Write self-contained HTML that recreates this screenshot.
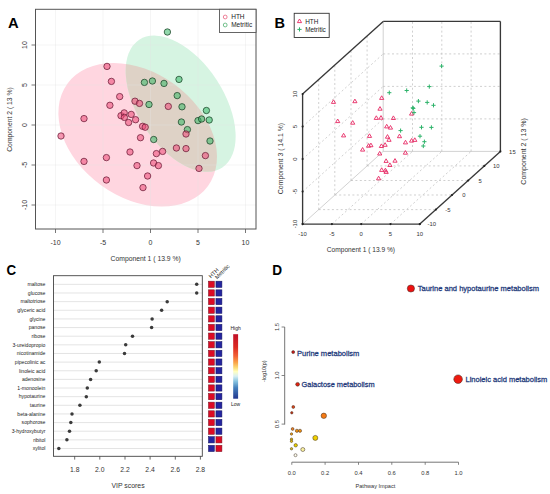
<!DOCTYPE html>
<html><head><meta charset="utf-8"><style>
html,body{margin:0;padding:0;background:#fff;width:550px;height:494px;overflow:hidden}
svg{display:block}
text{font-family:"Liberation Sans", sans-serif}
</style></head><body>
<svg width="550" height="494" viewBox="0 0 550 494">
<rect width="550" height="494" fill="#fff"/>
<defs><clipPath id="pinkclip"><ellipse cx="137.7" cy="134.8" rx="86.9" ry="62.4" transform="rotate(36 137.7 134.8)"/></clipPath></defs>
<ellipse cx="137.7" cy="134.8" rx="86.9" ry="62.4" transform="rotate(36 137.7 134.8)" fill="#FFD6E0"/>
<ellipse cx="180.66" cy="103.7" rx="76.2" ry="43.1" transform="rotate(57.1 180.66 103.7)" fill="#D6F4E2"/>
<g clip-path="url(#pinkclip)"><ellipse cx="180.66" cy="103.7" rx="76.2" ry="43.1" transform="rotate(57.1 180.66 103.7)" fill="#DED2C6"/></g>
<line x1="55.5" y1="9.3" x2="55.5" y2="229" stroke="#e4e4e4" stroke-opacity="0.45" stroke-width="0.8"/>
<line x1="103" y1="9.3" x2="103" y2="229" stroke="#e4e4e4" stroke-opacity="0.45" stroke-width="0.8"/>
<line x1="150.5" y1="9.3" x2="150.5" y2="229" stroke="#e4e4e4" stroke-opacity="0.45" stroke-width="0.8"/>
<line x1="198" y1="9.3" x2="198" y2="229" stroke="#e4e4e4" stroke-opacity="0.45" stroke-width="0.8"/>
<line x1="245.5" y1="9.3" x2="245.5" y2="229" stroke="#e4e4e4" stroke-opacity="0.45" stroke-width="0.8"/>
<line x1="35.5" y1="45" x2="256" y2="45" stroke="#e4e4e4" stroke-opacity="0.45" stroke-width="0.8"/>
<line x1="35.5" y1="85" x2="256" y2="85" stroke="#e4e4e4" stroke-opacity="0.45" stroke-width="0.8"/>
<line x1="35.5" y1="125" x2="256" y2="125" stroke="#e4e4e4" stroke-opacity="0.45" stroke-width="0.8"/>
<line x1="35.5" y1="165" x2="256" y2="165" stroke="#e4e4e4" stroke-opacity="0.45" stroke-width="0.8"/>
<line x1="35.5" y1="205" x2="256" y2="205" stroke="#e4e4e4" stroke-opacity="0.45" stroke-width="0.8"/>
<circle cx="167.4" cy="32" r="3.2" fill="#34B866" fill-opacity="0.55" stroke="#1C4428" stroke-opacity="0.95" stroke-width="0.8"/>
<circle cx="179" cy="79.4" r="3.2" fill="#34B866" fill-opacity="0.55" stroke="#1C4428" stroke-opacity="0.95" stroke-width="0.8"/>
<circle cx="144.4" cy="82.4" r="3.2" fill="#34B866" fill-opacity="0.55" stroke="#1C4428" stroke-opacity="0.95" stroke-width="0.8"/>
<circle cx="152.4" cy="81" r="3.2" fill="#34B866" fill-opacity="0.55" stroke="#1C4428" stroke-opacity="0.95" stroke-width="0.8"/>
<circle cx="164" cy="83.4" r="3.2" fill="#34B866" fill-opacity="0.55" stroke="#1C4428" stroke-opacity="0.95" stroke-width="0.8"/>
<circle cx="177.2" cy="95.6" r="3.2" fill="#34B866" fill-opacity="0.55" stroke="#1C4428" stroke-opacity="0.95" stroke-width="0.8"/>
<circle cx="149" cy="104.5" r="3.2" fill="#34B866" fill-opacity="0.55" stroke="#1C4428" stroke-opacity="0.95" stroke-width="0.8"/>
<circle cx="182" cy="106.8" r="3.2" fill="#34B866" fill-opacity="0.55" stroke="#1C4428" stroke-opacity="0.95" stroke-width="0.8"/>
<circle cx="206.4" cy="110.5" r="3.2" fill="#34B866" fill-opacity="0.55" stroke="#1C4428" stroke-opacity="0.95" stroke-width="0.8"/>
<circle cx="198" cy="120.6" r="3.2" fill="#34B866" fill-opacity="0.55" stroke="#1C4428" stroke-opacity="0.95" stroke-width="0.8"/>
<circle cx="201.6" cy="119" r="3.2" fill="#34B866" fill-opacity="0.55" stroke="#1C4428" stroke-opacity="0.95" stroke-width="0.8"/>
<circle cx="209.2" cy="120" r="3.2" fill="#34B866" fill-opacity="0.55" stroke="#1C4428" stroke-opacity="0.95" stroke-width="0.8"/>
<circle cx="181.4" cy="122" r="3.2" fill="#34B866" fill-opacity="0.55" stroke="#1C4428" stroke-opacity="0.95" stroke-width="0.8"/>
<circle cx="187.4" cy="129.6" r="3.2" fill="#34B866" fill-opacity="0.55" stroke="#1C4428" stroke-opacity="0.95" stroke-width="0.8"/>
<circle cx="153.7" cy="139.5" r="3.2" fill="#34B866" fill-opacity="0.55" stroke="#1C4428" stroke-opacity="0.95" stroke-width="0.8"/>
<circle cx="210" cy="141" r="3.2" fill="#34B866" fill-opacity="0.55" stroke="#1C4428" stroke-opacity="0.95" stroke-width="0.8"/>
<circle cx="107" cy="66.4" r="3.2" fill="#EE4E7A" fill-opacity="0.58" stroke="#6A1C36" stroke-opacity="0.95" stroke-width="0.8"/>
<circle cx="111.4" cy="81.4" r="3.2" fill="#EE4E7A" fill-opacity="0.58" stroke="#6A1C36" stroke-opacity="0.95" stroke-width="0.8"/>
<circle cx="119.7" cy="96.6" r="3.2" fill="#EE4E7A" fill-opacity="0.58" stroke="#6A1C36" stroke-opacity="0.95" stroke-width="0.8"/>
<circle cx="109.9" cy="105.3" r="3.2" fill="#EE4E7A" fill-opacity="0.58" stroke="#6A1C36" stroke-opacity="0.95" stroke-width="0.8"/>
<circle cx="84" cy="118.6" r="3.2" fill="#EE4E7A" fill-opacity="0.58" stroke="#6A1C36" stroke-opacity="0.95" stroke-width="0.8"/>
<circle cx="61" cy="136" r="3.2" fill="#EE4E7A" fill-opacity="0.58" stroke="#6A1C36" stroke-opacity="0.95" stroke-width="0.8"/>
<circle cx="135" cy="101.2" r="3.2" fill="#EE4E7A" fill-opacity="0.58" stroke="#6A1C36" stroke-opacity="0.95" stroke-width="0.8"/>
<circle cx="139.5" cy="103.4" r="3.2" fill="#EE4E7A" fill-opacity="0.58" stroke="#6A1C36" stroke-opacity="0.95" stroke-width="0.8"/>
<circle cx="121" cy="115.7" r="3.2" fill="#EE4E7A" fill-opacity="0.58" stroke="#6A1C36" stroke-opacity="0.95" stroke-width="0.8"/>
<circle cx="124.2" cy="112.9" r="3.2" fill="#EE4E7A" fill-opacity="0.58" stroke="#6A1C36" stroke-opacity="0.95" stroke-width="0.8"/>
<circle cx="124.4" cy="117.4" r="3.2" fill="#EE4E7A" fill-opacity="0.58" stroke="#6A1C36" stroke-opacity="0.95" stroke-width="0.8"/>
<circle cx="131.2" cy="114.4" r="3.2" fill="#EE4E7A" fill-opacity="0.58" stroke="#6A1C36" stroke-opacity="0.95" stroke-width="0.8"/>
<circle cx="135.6" cy="119.7" r="3.2" fill="#EE4E7A" fill-opacity="0.58" stroke="#6A1C36" stroke-opacity="0.95" stroke-width="0.8"/>
<circle cx="128.6" cy="122.5" r="3.2" fill="#EE4E7A" fill-opacity="0.58" stroke="#6A1C36" stroke-opacity="0.95" stroke-width="0.8"/>
<circle cx="142.6" cy="126.3" r="3.2" fill="#EE4E7A" fill-opacity="0.58" stroke="#6A1C36" stroke-opacity="0.95" stroke-width="0.8"/>
<circle cx="145.2" cy="127.2" r="3.2" fill="#EE4E7A" fill-opacity="0.58" stroke="#6A1C36" stroke-opacity="0.95" stroke-width="0.8"/>
<circle cx="140.5" cy="137.7" r="3.2" fill="#EE4E7A" fill-opacity="0.58" stroke="#6A1C36" stroke-opacity="0.95" stroke-width="0.8"/>
<circle cx="168.3" cy="106.4" r="3.2" fill="#EE4E7A" fill-opacity="0.58" stroke="#6A1C36" stroke-opacity="0.95" stroke-width="0.8"/>
<circle cx="186" cy="134" r="3.2" fill="#EE4E7A" fill-opacity="0.58" stroke="#6A1C36" stroke-opacity="0.95" stroke-width="0.8"/>
<circle cx="176.4" cy="148" r="3.2" fill="#EE4E7A" fill-opacity="0.58" stroke="#6A1C36" stroke-opacity="0.95" stroke-width="0.8"/>
<circle cx="186" cy="148.6" r="3.2" fill="#EE4E7A" fill-opacity="0.58" stroke="#6A1C36" stroke-opacity="0.95" stroke-width="0.8"/>
<circle cx="162.6" cy="151.4" r="3.2" fill="#EE4E7A" fill-opacity="0.58" stroke="#6A1C36" stroke-opacity="0.95" stroke-width="0.8"/>
<circle cx="156.4" cy="153.6" r="3.2" fill="#EE4E7A" fill-opacity="0.58" stroke="#6A1C36" stroke-opacity="0.95" stroke-width="0.8"/>
<circle cx="205.4" cy="155.6" r="3.2" fill="#EE4E7A" fill-opacity="0.58" stroke="#6A1C36" stroke-opacity="0.95" stroke-width="0.8"/>
<circle cx="153.6" cy="163" r="3.2" fill="#EE4E7A" fill-opacity="0.58" stroke="#6A1C36" stroke-opacity="0.95" stroke-width="0.8"/>
<circle cx="158.4" cy="165.6" r="3.2" fill="#EE4E7A" fill-opacity="0.58" stroke="#6A1C36" stroke-opacity="0.95" stroke-width="0.8"/>
<circle cx="199" cy="168.4" r="3.2" fill="#EE4E7A" fill-opacity="0.58" stroke="#6A1C36" stroke-opacity="0.95" stroke-width="0.8"/>
<circle cx="147.6" cy="176" r="3.2" fill="#EE4E7A" fill-opacity="0.58" stroke="#6A1C36" stroke-opacity="0.95" stroke-width="0.8"/>
<circle cx="143" cy="187.6" r="3.2" fill="#EE4E7A" fill-opacity="0.58" stroke="#6A1C36" stroke-opacity="0.95" stroke-width="0.8"/>
<circle cx="84" cy="161.4" r="3.2" fill="#EE4E7A" fill-opacity="0.58" stroke="#6A1C36" stroke-opacity="0.95" stroke-width="0.8"/>
<circle cx="106.4" cy="157.6" r="3.2" fill="#EE4E7A" fill-opacity="0.58" stroke="#6A1C36" stroke-opacity="0.95" stroke-width="0.8"/>
<circle cx="106.4" cy="180" r="3.2" fill="#EE4E7A" fill-opacity="0.58" stroke="#6A1C36" stroke-opacity="0.95" stroke-width="0.8"/>
<circle cx="130" cy="152" r="3.2" fill="#EE4E7A" fill-opacity="0.58" stroke="#6A1C36" stroke-opacity="0.95" stroke-width="0.8"/>
<circle cx="137" cy="165.6" r="3.2" fill="#EE4E7A" fill-opacity="0.58" stroke="#6A1C36" stroke-opacity="0.95" stroke-width="0.8"/>
<rect x="35.5" y="9.3" width="220.5" height="219.7" fill="none" stroke="#555" stroke-width="1"/>
<line x1="55.5" y1="229" x2="55.5" y2="233" stroke="#555" stroke-width="0.8"/>
<text x="55.5" y="245" font-size="7" text-anchor="middle" fill="#333" font-weight="normal" >-10</text>
<line x1="103" y1="229" x2="103" y2="233" stroke="#555" stroke-width="0.8"/>
<text x="103" y="245" font-size="7" text-anchor="middle" fill="#333" font-weight="normal" >-5</text>
<line x1="150.5" y1="229" x2="150.5" y2="233" stroke="#555" stroke-width="0.8"/>
<text x="150.5" y="245" font-size="7" text-anchor="middle" fill="#333" font-weight="normal" >0</text>
<line x1="198" y1="229" x2="198" y2="233" stroke="#555" stroke-width="0.8"/>
<text x="198" y="245" font-size="7" text-anchor="middle" fill="#333" font-weight="normal" >5</text>
<line x1="245.5" y1="229" x2="245.5" y2="233" stroke="#555" stroke-width="0.8"/>
<text x="245.5" y="245" font-size="7" text-anchor="middle" fill="#333" font-weight="normal" >10</text>
<line x1="31.5" y1="45" x2="35.5" y2="45" stroke="#555" stroke-width="0.8"/>
<text x="27.2" y="45" font-size="7" text-anchor="middle" fill="#333" font-weight="normal" transform="rotate(-90 27.2 45)" >10</text>
<line x1="31.5" y1="85" x2="35.5" y2="85" stroke="#555" stroke-width="0.8"/>
<text x="27.2" y="85" font-size="7" text-anchor="middle" fill="#333" font-weight="normal" transform="rotate(-90 27.2 85)" >5</text>
<line x1="31.5" y1="125" x2="35.5" y2="125" stroke="#555" stroke-width="0.8"/>
<text x="27.2" y="125" font-size="7" text-anchor="middle" fill="#333" font-weight="normal" transform="rotate(-90 27.2 125)" >0</text>
<line x1="31.5" y1="165" x2="35.5" y2="165" stroke="#555" stroke-width="0.8"/>
<text x="27.2" y="165" font-size="7" text-anchor="middle" fill="#333" font-weight="normal" transform="rotate(-90 27.2 165)" >-5</text>
<line x1="31.5" y1="205" x2="35.5" y2="205" stroke="#555" stroke-width="0.8"/>
<text x="27.2" y="205" font-size="7" text-anchor="middle" fill="#333" font-weight="normal" transform="rotate(-90 27.2 205)" >-10</text>
<text x="11.6" y="119.5" font-size="6.8" text-anchor="middle" fill="#333" font-weight="normal" transform="rotate(-90 11.6 119.5)" >Component 2 ( 13 %)</text>
<text x="145.7" y="261.1" font-size="6.8" text-anchor="middle" fill="#333" font-weight="normal" >Component 1 ( 13.9 %)</text>
<text transform="translate(8.1 27.75) scale(1.02 1.04)" font-size="14.5" font-weight="bold" fill="#000">A</text>
<rect x="219.5" y="9.3" width="36.5" height="23.2" fill="#fff" stroke="#555" stroke-width="0.9"/>
<circle cx="225.2" cy="17" r="1.9" fill="none" stroke="#E8607E" stroke-width="0.8"/>
<circle cx="225.2" cy="25" r="1.9" fill="none" stroke="#50B070" stroke-width="0.8"/>
<text x="231.2" y="19.4" font-size="6.5" text-anchor="start" fill="#222" font-weight="normal" >HTH</text>
<text x="231.2" y="27.4" font-size="6.5" text-anchor="start" fill="#222" font-weight="normal" >Metritic</text>
<line x1="318.7" y1="209.6" x2="435.9" y2="209.6" stroke="#bcbcbc" stroke-width="0.7" stroke-dasharray="2 2.4"/>
<line x1="334.8" y1="195.0" x2="452.0" y2="195.0" stroke="#bcbcbc" stroke-width="0.7" stroke-dasharray="2 2.4"/>
<line x1="351.0" y1="180.5" x2="468.2" y2="180.5" stroke="#bcbcbc" stroke-width="0.7" stroke-dasharray="2 2.4"/>
<line x1="367.1" y1="165.9" x2="484.3" y2="165.9" stroke="#bcbcbc" stroke-width="0.7" stroke-dasharray="2 2.4"/>
<line x1="331.9" y1="224.1" x2="412.5" y2="151.4" stroke="#bcbcbc" stroke-width="0.7" stroke-dasharray="2 2.4"/>
<line x1="361.2" y1="224.1" x2="441.8" y2="151.4" stroke="#bcbcbc" stroke-width="0.7" stroke-dasharray="2 2.4"/>
<line x1="390.5" y1="224.1" x2="471.1" y2="151.4" stroke="#bcbcbc" stroke-width="0.7" stroke-dasharray="2 2.4"/>
<line x1="318.7" y1="209.6" x2="318.7" y2="79.6" stroke="#bcbcbc" stroke-width="0.7" stroke-dasharray="2 2.4"/>
<line x1="334.8" y1="195.0" x2="334.8" y2="65.0" stroke="#bcbcbc" stroke-width="0.7" stroke-dasharray="2 2.4"/>
<line x1="351.0" y1="180.5" x2="351.0" y2="50.5" stroke="#bcbcbc" stroke-width="0.7" stroke-dasharray="2 2.4"/>
<line x1="367.1" y1="165.9" x2="367.1" y2="35.9" stroke="#bcbcbc" stroke-width="0.7" stroke-dasharray="2 2.4"/>
<line x1="302.6" y1="191.6" x2="383.2" y2="118.9" stroke="#bcbcbc" stroke-width="0.7" stroke-dasharray="2 2.4"/>
<line x1="302.6" y1="159.1" x2="383.2" y2="86.4" stroke="#bcbcbc" stroke-width="0.7" stroke-dasharray="2 2.4"/>
<line x1="302.6" y1="126.6" x2="383.2" y2="53.9" stroke="#bcbcbc" stroke-width="0.7" stroke-dasharray="2 2.4"/>
<line x1="412.5" y1="151.4" x2="412.5" y2="21.4" stroke="#bcbcbc" stroke-width="0.7" stroke-dasharray="2 2.4"/>
<line x1="441.8" y1="151.4" x2="441.8" y2="21.4" stroke="#bcbcbc" stroke-width="0.7" stroke-dasharray="2 2.4"/>
<line x1="471.1" y1="151.4" x2="471.1" y2="21.4" stroke="#bcbcbc" stroke-width="0.7" stroke-dasharray="2 2.4"/>
<line x1="383.2" y1="118.9" x2="500.4" y2="118.9" stroke="#bcbcbc" stroke-width="0.7" stroke-dasharray="2 2.4"/>
<line x1="383.2" y1="86.4" x2="500.4" y2="86.4" stroke="#bcbcbc" stroke-width="0.7" stroke-dasharray="2 2.4"/>
<line x1="383.2" y1="53.9" x2="500.4" y2="53.9" stroke="#bcbcbc" stroke-width="0.7" stroke-dasharray="2 2.4"/>
<line x1="302.6" y1="224.1" x2="383.2" y2="151.4" stroke="#b4b4b4" stroke-width="0.6"/>
<line x1="383.2" y1="151.4" x2="500.4" y2="151.4" stroke="#b4b4b4" stroke-width="0.6"/>
<line x1="383.2" y1="151.4" x2="383.2" y2="21.4" stroke="#b4b4b4" stroke-width="0.6"/>
<line x1="302.6" y1="224.1" x2="302.6" y2="94.1" stroke="#383838" stroke-width="1.35"/>
<line x1="302.6" y1="94.1" x2="383.2" y2="21.4" stroke="#383838" stroke-width="1.35"/>
<line x1="383.2" y1="21.4" x2="500.4" y2="21.4" stroke="#383838" stroke-width="1.35"/>
<line x1="500.4" y1="21.4" x2="500.4" y2="151.4" stroke="#383838" stroke-width="1.35"/>
<line x1="500.4" y1="151.4" x2="419.8" y2="224.1" stroke="#383838" stroke-width="1.35"/>
<line x1="419.8" y1="224.1" x2="302.6" y2="224.1" stroke="#383838" stroke-width="1.35"/>
<circle cx="302.6" cy="224.1" r="1.05" fill="#222"/>
<text x="302.6" y="235.8" font-size="5.9" text-anchor="middle" fill="#333" font-weight="normal" >-10</text>
<circle cx="331.9" cy="224.1" r="1.05" fill="#222"/>
<text x="331.9" y="235.8" font-size="5.9" text-anchor="middle" fill="#333" font-weight="normal" >-5</text>
<circle cx="361.2" cy="224.1" r="1.05" fill="#222"/>
<text x="361.2" y="235.8" font-size="5.9" text-anchor="middle" fill="#333" font-weight="normal" >0</text>
<circle cx="390.5" cy="224.1" r="1.05" fill="#222"/>
<text x="390.5" y="235.8" font-size="5.9" text-anchor="middle" fill="#333" font-weight="normal" >5</text>
<circle cx="419.8" cy="224.1" r="1.05" fill="#222"/>
<text x="419.8" y="235.8" font-size="5.9" text-anchor="middle" fill="#333" font-weight="normal" >10</text>
<circle cx="302.6" cy="224.1" r="1.05" fill="#222"/>
<text x="297.4" y="224.1" font-size="5.9" text-anchor="middle" fill="#333" font-weight="normal" transform="rotate(-90 297.4 224.1)" >-10</text>
<circle cx="302.6" cy="191.6" r="1.05" fill="#222"/>
<text x="297.4" y="191.6" font-size="5.9" text-anchor="middle" fill="#333" font-weight="normal" transform="rotate(-90 297.4 191.6)" >-5</text>
<circle cx="302.6" cy="159.1" r="1.05" fill="#222"/>
<text x="297.4" y="159.1" font-size="5.9" text-anchor="middle" fill="#333" font-weight="normal" transform="rotate(-90 297.4 159.1)" >0</text>
<circle cx="302.6" cy="126.6" r="1.05" fill="#222"/>
<text x="297.4" y="126.6" font-size="5.9" text-anchor="middle" fill="#333" font-weight="normal" transform="rotate(-90 297.4 126.6)" >5</text>
<circle cx="302.6" cy="94.1" r="1.05" fill="#222"/>
<text x="297.4" y="94.1" font-size="5.9" text-anchor="middle" fill="#333" font-weight="normal" transform="rotate(-90 297.4 94.1)" >10</text>
<circle cx="419.8" cy="224.1" r="1.05" fill="#222"/>
<text x="431.8" y="226.2" font-size="5.9" text-anchor="middle" fill="#333" font-weight="normal" >-10</text>
<circle cx="435.9" cy="209.6" r="1.05" fill="#222"/>
<text x="447.9" y="211.7" font-size="5.9" text-anchor="middle" fill="#333" font-weight="normal" >-5</text>
<circle cx="452.0" cy="195.0" r="1.05" fill="#222"/>
<text x="464.0" y="197.1" font-size="5.9" text-anchor="middle" fill="#333" font-weight="normal" >0</text>
<circle cx="468.2" cy="180.5" r="1.05" fill="#222"/>
<text x="480.2" y="182.6" font-size="5.9" text-anchor="middle" fill="#333" font-weight="normal" >5</text>
<circle cx="484.3" cy="165.9" r="1.05" fill="#222"/>
<text x="496.3" y="168.0" font-size="5.9" text-anchor="middle" fill="#333" font-weight="normal" >10</text>
<circle cx="500.4" cy="151.4" r="1.05" fill="#222"/>
<text x="512.4" y="153.5" font-size="5.9" text-anchor="middle" fill="#333" font-weight="normal" >15</text>
<text x="282.6" y="158.5" font-size="6.9" text-anchor="middle" fill="#333" font-weight="normal" transform="rotate(-90 282.6 158.5)" >Component 3 ( 14.1 %)</text>
<text x="360.9" y="252" font-size="6.6" text-anchor="middle" fill="#333" font-weight="normal" >Component 1 ( 13.9 %)</text>
<text x="526.4" y="151.4" font-size="7" text-anchor="middle" fill="#333" font-weight="normal" transform="rotate(-90 526.4 151.4)" >Component 2 ( 13 %)</text>
<text x="274.6" y="27.9" font-size="14.5" text-anchor="start" fill="#000" font-weight="bold" >B</text>
<path d="M331.40 103.40 L335.60 103.40 L333.50 99.80 Z" fill="none" stroke="#E8336A" stroke-width="0.95"/>
<path d="M352.80 102.70 L357.00 102.70 L354.90 99.10 Z" fill="none" stroke="#E8336A" stroke-width="0.95"/>
<path d="M379.60 99.40 L383.80 99.40 L381.70 95.80 Z" fill="none" stroke="#E8336A" stroke-width="0.95"/>
<path d="M377.90 110.20 L382.10 110.20 L380.00 106.60 Z" fill="none" stroke="#E8336A" stroke-width="0.95"/>
<path d="M374.20 119.40 L378.40 119.40 L376.30 115.80 Z" fill="none" stroke="#E8336A" stroke-width="0.95"/>
<path d="M378.90 119.20 L383.10 119.20 L381.00 115.60 Z" fill="none" stroke="#E8336A" stroke-width="0.95"/>
<path d="M391.30 119.50 L395.50 119.50 L393.40 115.90 Z" fill="none" stroke="#E8336A" stroke-width="0.95"/>
<path d="M335.60 122.60 L339.80 122.60 L337.70 119.00 Z" fill="none" stroke="#E8336A" stroke-width="0.95"/>
<path d="M350.60 124.20 L354.80 124.20 L352.70 120.60 Z" fill="none" stroke="#E8336A" stroke-width="0.95"/>
<path d="M384.60 127.90 L388.80 127.90 L386.70 124.30 Z" fill="none" stroke="#E8336A" stroke-width="0.95"/>
<path d="M388.40 129.10 L392.60 129.10 L390.50 125.50 Z" fill="none" stroke="#E8336A" stroke-width="0.95"/>
<path d="M341.50 136.90 L345.70 136.90 L343.60 133.30 Z" fill="none" stroke="#E8336A" stroke-width="0.95"/>
<path d="M367.40 137.40 L371.60 137.40 L369.50 133.80 Z" fill="none" stroke="#E8336A" stroke-width="0.95"/>
<path d="M385.40 138.20 L389.60 138.20 L387.50 134.60 Z" fill="none" stroke="#E8336A" stroke-width="0.95"/>
<path d="M386.90 141.30 L391.10 141.30 L389.00 137.70 Z" fill="none" stroke="#E8336A" stroke-width="0.95"/>
<path d="M397.40 137.70 L401.60 137.70 L399.50 134.10 Z" fill="none" stroke="#E8336A" stroke-width="0.95"/>
<path d="M366.50 147.20 L370.70 147.20 L368.60 143.60 Z" fill="none" stroke="#E8336A" stroke-width="0.95"/>
<path d="M368.80 146.70 L373.00 146.70 L370.90 143.10 Z" fill="none" stroke="#E8336A" stroke-width="0.95"/>
<path d="M379.30 147.50 L383.50 147.50 L381.40 143.90 Z" fill="none" stroke="#E8336A" stroke-width="0.95"/>
<path d="M383.00 146.30 L387.20 146.30 L385.10 142.70 Z" fill="none" stroke="#E8336A" stroke-width="0.95"/>
<path d="M360.50 151.10 L364.70 151.10 L362.60 147.50 Z" fill="none" stroke="#E8336A" stroke-width="0.95"/>
<path d="M409.50 115.10 L413.70 115.10 L411.60 111.50 Z" fill="none" stroke="#E8336A" stroke-width="0.95"/>
<path d="M403.40 143.90 L407.60 143.90 L405.50 140.30 Z" fill="none" stroke="#E8336A" stroke-width="0.95"/>
<path d="M409.50 142.10 L413.70 142.10 L411.60 138.50 Z" fill="none" stroke="#E8336A" stroke-width="0.95"/>
<path d="M412.70 141.40 L416.90 141.40 L414.80 137.80 Z" fill="none" stroke="#E8336A" stroke-width="0.95"/>
<path d="M377.60 155.00 L381.80 155.00 L379.70 151.40 Z" fill="none" stroke="#E8336A" stroke-width="0.95"/>
<path d="M403.30 154.20 L407.50 154.20 L405.40 150.60 Z" fill="none" stroke="#E8336A" stroke-width="0.95"/>
<path d="M384.00 162.40 L388.20 162.40 L386.10 158.80 Z" fill="none" stroke="#E8336A" stroke-width="0.95"/>
<path d="M392.90 162.20 L397.10 162.20 L395.00 158.60 Z" fill="none" stroke="#E8336A" stroke-width="0.95"/>
<path d="M387.80 166.50 L392.00 166.50 L389.90 162.90 Z" fill="none" stroke="#E8336A" stroke-width="0.95"/>
<path d="M379.60 171.40 L383.80 171.40 L381.70 167.80 Z" fill="none" stroke="#E8336A" stroke-width="0.95"/>
<path d="M383.30 171.80 L387.50 171.80 L385.40 168.20 Z" fill="none" stroke="#E8336A" stroke-width="0.95"/>
<path d="M384.00 173.40 L388.20 173.40 L386.10 169.80 Z" fill="none" stroke="#E8336A" stroke-width="0.95"/>
<path d="M376.50 179.80 L380.70 179.80 L378.60 176.20 Z" fill="none" stroke="#E8336A" stroke-width="0.95"/>
<path d="M439.50 66.10 H443.70 M441.60 64.00 V68.20" stroke="#2DB36A" stroke-width="1"/>
<path d="M427.20 86.60 H431.40 M429.30 84.50 V88.70" stroke="#2DB36A" stroke-width="1"/>
<path d="M404.60 90.50 H408.80 M406.70 88.40 V92.60" stroke="#2DB36A" stroke-width="1"/>
<path d="M387.20 92.70 H391.40 M389.30 90.60 V94.80" stroke="#2DB36A" stroke-width="1"/>
<path d="M416.30 101.10 H420.50 M418.40 99.00 V103.20" stroke="#2DB36A" stroke-width="1"/>
<path d="M425.10 102.40 H429.30 M427.20 100.30 V104.50" stroke="#2DB36A" stroke-width="1"/>
<path d="M431.40 105.30 H435.60 M433.50 103.20 V107.40" stroke="#2DB36A" stroke-width="1"/>
<path d="M410.70 107.80 H414.90 M412.80 105.70 V109.90" stroke="#2DB36A" stroke-width="1"/>
<path d="M411.20 108.40 H415.40 M413.30 106.30 V110.50" stroke="#2DB36A" stroke-width="1"/>
<path d="M411.90 112.60 H416.10 M414.00 110.50 V114.70" stroke="#2DB36A" stroke-width="1"/>
<path d="M419.40 127.30 H423.60 M421.50 125.20 V129.40" stroke="#2DB36A" stroke-width="1"/>
<path d="M429.30 127.40 H433.50 M431.40 125.30 V129.50" stroke="#2DB36A" stroke-width="1"/>
<path d="M398.50 130.60 H402.70 M400.60 128.50 V132.70" stroke="#2DB36A" stroke-width="1"/>
<path d="M417.90 136.20 H422.10 M420.00 134.10 V138.30" stroke="#2DB36A" stroke-width="1"/>
<path d="M422.30 141.70 H426.50 M424.40 139.60 V143.80" stroke="#2DB36A" stroke-width="1"/>
<path d="M421.20 146.00 H425.40 M423.30 143.90 V148.10" stroke="#2DB36A" stroke-width="1"/>
<rect x="294.2" y="13.3" width="35" height="24.2" fill="#fff" stroke="#333" stroke-width="0.9"/>
<path d="M297.40 22.60 L301.60 22.60 L299.50 19.00 Z" fill="none" stroke="#E8336A" stroke-width="0.95"/>
<path d="M297.40 29.40 H301.60 M299.50 27.30 V31.50" stroke="#2DB36A" stroke-width="1"/>
<text x="305.2" y="23.6" font-size="6.4" text-anchor="start" fill="#222" font-weight="normal" >HTH</text>
<text x="305.2" y="31.8" font-size="6.4" text-anchor="start" fill="#222" font-weight="normal" >Metritic</text>
<line x1="53.5" y1="284.35" x2="202.3" y2="284.35" stroke="#d8d8d8" stroke-width="0.7"/>
<circle cx="196.7" cy="284.35" r="1.75" fill="#3a3a3a"/>
<text x="45.4" y="286.15" font-size="5.1" text-anchor="end" fill="#222" font-weight="normal" >maltose</text>
<rect x="208.5" y="281.20" width="5.8" height="6.2" fill="#DD0A24" stroke="#7a1020" stroke-width="0.55"/>
<rect x="215.95" y="281.20" width="5.95" height="6.2" fill="#2424A0" stroke="#151560" stroke-width="0.55"/>
<line x1="53.5" y1="292.99" x2="202.3" y2="292.99" stroke="#d8d8d8" stroke-width="0.7"/>
<circle cx="196.7" cy="292.99" r="1.75" fill="#3a3a3a"/>
<text x="45.4" y="294.79" font-size="5.1" text-anchor="end" fill="#222" font-weight="normal" >glucose</text>
<rect x="208.5" y="289.84" width="5.8" height="6.2" fill="#DD0A24" stroke="#7a1020" stroke-width="0.55"/>
<rect x="215.95" y="289.84" width="5.95" height="6.2" fill="#2424A0" stroke="#151560" stroke-width="0.55"/>
<line x1="53.5" y1="301.63" x2="202.3" y2="301.63" stroke="#d8d8d8" stroke-width="0.7"/>
<circle cx="167.2" cy="301.63" r="1.75" fill="#3a3a3a"/>
<text x="45.4" y="303.43" font-size="5.1" text-anchor="end" fill="#222" font-weight="normal" >maltotriose</text>
<rect x="208.5" y="298.48" width="5.8" height="6.2" fill="#DD0A24" stroke="#7a1020" stroke-width="0.55"/>
<rect x="215.95" y="298.48" width="5.95" height="6.2" fill="#2424A0" stroke="#151560" stroke-width="0.55"/>
<line x1="53.5" y1="310.27" x2="202.3" y2="310.27" stroke="#d8d8d8" stroke-width="0.7"/>
<circle cx="161.6" cy="310.27" r="1.75" fill="#3a3a3a"/>
<text x="45.4" y="312.07" font-size="5.1" text-anchor="end" fill="#222" font-weight="normal" >glyceric acid</text>
<rect x="208.5" y="307.12" width="5.8" height="6.2" fill="#DD0A24" stroke="#7a1020" stroke-width="0.55"/>
<rect x="215.95" y="307.12" width="5.95" height="6.2" fill="#2424A0" stroke="#151560" stroke-width="0.55"/>
<line x1="53.5" y1="318.91" x2="202.3" y2="318.91" stroke="#d8d8d8" stroke-width="0.7"/>
<circle cx="152.1" cy="318.91" r="1.75" fill="#3a3a3a"/>
<text x="45.4" y="320.71" font-size="5.1" text-anchor="end" fill="#222" font-weight="normal" >glycine</text>
<rect x="208.5" y="315.76" width="5.8" height="6.2" fill="#DD0A24" stroke="#7a1020" stroke-width="0.55"/>
<rect x="215.95" y="315.76" width="5.95" height="6.2" fill="#2424A0" stroke="#151560" stroke-width="0.55"/>
<line x1="53.5" y1="327.55" x2="202.3" y2="327.55" stroke="#d8d8d8" stroke-width="0.7"/>
<circle cx="151.6" cy="327.55" r="1.75" fill="#3a3a3a"/>
<text x="45.4" y="329.35" font-size="5.1" text-anchor="end" fill="#222" font-weight="normal" >panose</text>
<rect x="208.5" y="324.40" width="5.8" height="6.2" fill="#DD0A24" stroke="#7a1020" stroke-width="0.55"/>
<rect x="215.95" y="324.40" width="5.95" height="6.2" fill="#2424A0" stroke="#151560" stroke-width="0.55"/>
<line x1="53.5" y1="336.19" x2="202.3" y2="336.19" stroke="#d8d8d8" stroke-width="0.7"/>
<circle cx="132.5" cy="336.19" r="1.75" fill="#3a3a3a"/>
<text x="45.4" y="337.99" font-size="5.1" text-anchor="end" fill="#222" font-weight="normal" >ribose</text>
<rect x="208.5" y="333.04" width="5.8" height="6.2" fill="#DD0A24" stroke="#7a1020" stroke-width="0.55"/>
<rect x="215.95" y="333.04" width="5.95" height="6.2" fill="#2424A0" stroke="#151560" stroke-width="0.55"/>
<line x1="53.5" y1="344.83" x2="202.3" y2="344.83" stroke="#d8d8d8" stroke-width="0.7"/>
<circle cx="125.7" cy="344.83" r="1.75" fill="#3a3a3a"/>
<text x="45.4" y="346.63" font-size="5.1" text-anchor="end" fill="#222" font-weight="normal" >3-ureidopropio</text>
<rect x="208.5" y="341.68" width="5.8" height="6.2" fill="#DD0A24" stroke="#7a1020" stroke-width="0.55"/>
<rect x="215.95" y="341.68" width="5.95" height="6.2" fill="#2424A0" stroke="#151560" stroke-width="0.55"/>
<line x1="53.5" y1="353.47" x2="202.3" y2="353.47" stroke="#d8d8d8" stroke-width="0.7"/>
<circle cx="124.5" cy="353.47" r="1.75" fill="#3a3a3a"/>
<text x="45.4" y="355.27" font-size="5.1" text-anchor="end" fill="#222" font-weight="normal" >nicotinamide</text>
<rect x="208.5" y="350.32" width="5.8" height="6.2" fill="#DD0A24" stroke="#7a1020" stroke-width="0.55"/>
<rect x="215.95" y="350.32" width="5.95" height="6.2" fill="#2424A0" stroke="#151560" stroke-width="0.55"/>
<line x1="53.5" y1="362.11" x2="202.3" y2="362.11" stroke="#d8d8d8" stroke-width="0.7"/>
<circle cx="99.3" cy="362.11" r="1.75" fill="#3a3a3a"/>
<text x="45.4" y="363.91" font-size="5.1" text-anchor="end" fill="#222" font-weight="normal" >pipecolinic ac</text>
<rect x="208.5" y="358.96" width="5.8" height="6.2" fill="#DD0A24" stroke="#7a1020" stroke-width="0.55"/>
<rect x="215.95" y="358.96" width="5.95" height="6.2" fill="#2424A0" stroke="#151560" stroke-width="0.55"/>
<line x1="53.5" y1="370.75" x2="202.3" y2="370.75" stroke="#d8d8d8" stroke-width="0.7"/>
<circle cx="96.2" cy="370.75" r="1.75" fill="#3a3a3a"/>
<text x="45.4" y="372.55" font-size="5.1" text-anchor="end" fill="#222" font-weight="normal" >linoleic acid</text>
<rect x="208.5" y="367.60" width="5.8" height="6.2" fill="#DD0A24" stroke="#7a1020" stroke-width="0.55"/>
<rect x="215.95" y="367.60" width="5.95" height="6.2" fill="#2424A0" stroke="#151560" stroke-width="0.55"/>
<line x1="53.5" y1="379.39" x2="202.3" y2="379.39" stroke="#d8d8d8" stroke-width="0.7"/>
<circle cx="90.6" cy="379.39" r="1.75" fill="#3a3a3a"/>
<text x="45.4" y="381.19" font-size="5.1" text-anchor="end" fill="#222" font-weight="normal" >adenosine</text>
<rect x="208.5" y="376.24" width="5.8" height="6.2" fill="#DD0A24" stroke="#7a1020" stroke-width="0.55"/>
<rect x="215.95" y="376.24" width="5.95" height="6.2" fill="#2424A0" stroke="#151560" stroke-width="0.55"/>
<line x1="53.5" y1="388.03" x2="202.3" y2="388.03" stroke="#d8d8d8" stroke-width="0.7"/>
<circle cx="87.3" cy="388.03" r="1.75" fill="#3a3a3a"/>
<text x="45.4" y="389.83" font-size="5.1" text-anchor="end" fill="#222" font-weight="normal" >1-monoolein</text>
<rect x="208.5" y="384.88" width="5.8" height="6.2" fill="#DD0A24" stroke="#7a1020" stroke-width="0.55"/>
<rect x="215.95" y="384.88" width="5.95" height="6.2" fill="#2424A0" stroke="#151560" stroke-width="0.55"/>
<line x1="53.5" y1="396.67" x2="202.3" y2="396.67" stroke="#d8d8d8" stroke-width="0.7"/>
<circle cx="86.3" cy="396.67" r="1.75" fill="#3a3a3a"/>
<text x="45.4" y="398.47" font-size="5.1" text-anchor="end" fill="#222" font-weight="normal" >hypotaurine</text>
<rect x="208.5" y="393.52" width="5.8" height="6.2" fill="#DD0A24" stroke="#7a1020" stroke-width="0.55"/>
<rect x="215.95" y="393.52" width="5.95" height="6.2" fill="#2424A0" stroke="#151560" stroke-width="0.55"/>
<line x1="53.5" y1="405.31" x2="202.3" y2="405.31" stroke="#d8d8d8" stroke-width="0.7"/>
<circle cx="79.9" cy="405.31" r="1.75" fill="#3a3a3a"/>
<text x="45.4" y="407.11" font-size="5.1" text-anchor="end" fill="#222" font-weight="normal" >taurine</text>
<rect x="208.5" y="402.16" width="5.8" height="6.2" fill="#DD0A24" stroke="#7a1020" stroke-width="0.55"/>
<rect x="215.95" y="402.16" width="5.95" height="6.2" fill="#2424A0" stroke="#151560" stroke-width="0.55"/>
<line x1="53.5" y1="413.95" x2="202.3" y2="413.95" stroke="#d8d8d8" stroke-width="0.7"/>
<circle cx="72.0" cy="413.95" r="1.75" fill="#3a3a3a"/>
<text x="45.4" y="415.75" font-size="5.1" text-anchor="end" fill="#222" font-weight="normal" >beta-alanine</text>
<rect x="208.5" y="410.80" width="5.8" height="6.2" fill="#DD0A24" stroke="#7a1020" stroke-width="0.55"/>
<rect x="215.95" y="410.80" width="5.95" height="6.2" fill="#2424A0" stroke="#151560" stroke-width="0.55"/>
<line x1="53.5" y1="422.59" x2="202.3" y2="422.59" stroke="#d8d8d8" stroke-width="0.7"/>
<circle cx="70.8" cy="422.59" r="1.75" fill="#3a3a3a"/>
<text x="45.4" y="424.39" font-size="5.1" text-anchor="end" fill="#222" font-weight="normal" >sophorose</text>
<rect x="208.5" y="419.44" width="5.8" height="6.2" fill="#DD0A24" stroke="#7a1020" stroke-width="0.55"/>
<rect x="215.95" y="419.44" width="5.95" height="6.2" fill="#2424A0" stroke="#151560" stroke-width="0.55"/>
<line x1="53.5" y1="431.23" x2="202.3" y2="431.23" stroke="#d8d8d8" stroke-width="0.7"/>
<circle cx="69.5" cy="431.23" r="1.75" fill="#3a3a3a"/>
<text x="45.4" y="433.03" font-size="5.1" text-anchor="end" fill="#222" font-weight="normal" >3-hydroxybutyr</text>
<rect x="208.5" y="428.08" width="5.8" height="6.2" fill="#DD0A24" stroke="#7a1020" stroke-width="0.55"/>
<rect x="215.95" y="428.08" width="5.95" height="6.2" fill="#2424A0" stroke="#151560" stroke-width="0.55"/>
<line x1="53.5" y1="439.87" x2="202.3" y2="439.87" stroke="#d8d8d8" stroke-width="0.7"/>
<circle cx="66.9" cy="439.87" r="1.75" fill="#3a3a3a"/>
<text x="45.4" y="441.67" font-size="5.1" text-anchor="end" fill="#222" font-weight="normal" >ribitol</text>
<rect x="208.5" y="436.72" width="5.8" height="6.2" fill="#2424A0" stroke="#151560" stroke-width="0.55"/>
<rect x="215.95" y="436.72" width="5.95" height="6.2" fill="#DD0A24" stroke="#7a1020" stroke-width="0.55"/>
<line x1="53.5" y1="448.51" x2="202.3" y2="448.51" stroke="#d8d8d8" stroke-width="0.7"/>
<circle cx="58.8" cy="448.51" r="1.75" fill="#3a3a3a"/>
<text x="45.4" y="450.31" font-size="5.1" text-anchor="end" fill="#222" font-weight="normal" >xylitol</text>
<rect x="208.5" y="445.36" width="5.8" height="6.2" fill="#2424A0" stroke="#151560" stroke-width="0.55"/>
<rect x="215.95" y="445.36" width="5.95" height="6.2" fill="#DD0A24" stroke="#7a1020" stroke-width="0.55"/>
<rect x="53.5" y="275.7" width="148.8" height="180.6" fill="none" stroke="#444" stroke-width="0.9"/>
<line x1="74.7" y1="456.3" x2="74.7" y2="459.6" stroke="#444" stroke-width="0.8"/>
<text x="74.7" y="471.6" font-size="6.8" text-anchor="middle" fill="#333" font-weight="normal" >1.8</text>
<line x1="99.8" y1="456.3" x2="99.8" y2="459.6" stroke="#444" stroke-width="0.8"/>
<text x="99.8" y="471.6" font-size="6.8" text-anchor="middle" fill="#333" font-weight="normal" >2.0</text>
<line x1="125.0" y1="456.3" x2="125.0" y2="459.6" stroke="#444" stroke-width="0.8"/>
<text x="125.0" y="471.6" font-size="6.8" text-anchor="middle" fill="#333" font-weight="normal" >2.2</text>
<line x1="150.1" y1="456.3" x2="150.1" y2="459.6" stroke="#444" stroke-width="0.8"/>
<text x="150.1" y="471.6" font-size="6.8" text-anchor="middle" fill="#333" font-weight="normal" >2.4</text>
<line x1="175.3" y1="456.3" x2="175.3" y2="459.6" stroke="#444" stroke-width="0.8"/>
<text x="175.3" y="471.6" font-size="6.8" text-anchor="middle" fill="#333" font-weight="normal" >2.6</text>
<line x1="200.4" y1="456.3" x2="200.4" y2="459.6" stroke="#444" stroke-width="0.8"/>
<text x="200.4" y="471.6" font-size="6.8" text-anchor="middle" fill="#333" font-weight="normal" >2.8</text>
<text x="128" y="488.2" font-size="6.9" text-anchor="middle" fill="#333" font-weight="normal" >VIP scores</text>
<text transform="translate(6.4 275.0) scale(0.92 1.06)" font-size="14.5" font-weight="bold" fill="#000">C</text>
<text x="211.0" y="278.6" font-size="5.6" text-anchor="start" fill="#222" font-weight="normal" transform="rotate(-45 211.0 278.6)" >HTH</text>
<text x="217.3" y="279.4" font-size="5.6" text-anchor="start" fill="#222" font-weight="normal" transform="rotate(-45 217.3 279.4)" >Metritic</text>
<defs><linearGradient id="cb" x1="0" y1="0" x2="0" y2="1"><stop offset="0" stop-color="#C01028"/><stop offset="0.2" stop-color="#DC2A22"/><stop offset="0.34" stop-color="#F26236"/><stop offset="0.44" stop-color="#FAA448"/><stop offset="0.52" stop-color="#FCDC78"/><stop offset="0.58" stop-color="#FFFFC0"/><stop offset="0.65" stop-color="#D8F0F2"/><stop offset="0.73" stop-color="#88C4E0"/><stop offset="0.83" stop-color="#4480BC"/><stop offset="1" stop-color="#22378F"/></linearGradient></defs>
<rect x="233.2" y="334.2" width="4.9" height="64.5" fill="url(#cb)"/>
<text x="235.6" y="330.1" font-size="5.0" text-anchor="middle" fill="#222" font-weight="normal" >High</text>
<text x="235.6" y="406.2" font-size="5.0" text-anchor="middle" fill="#222" font-weight="normal" >Low</text>
<line x1="284.7" y1="327.0" x2="284.7" y2="424.5" stroke="#666" stroke-width="0.9"/>
<line x1="281.6" y1="327.0" x2="284.7" y2="327.0" stroke="#666" stroke-width="0.8"/>
<text x="278.8" y="327.0" font-size="5.8" text-anchor="middle" fill="#333" font-weight="normal" transform="rotate(-90 278.8 327.0)" >1.5</text>
<line x1="281.6" y1="375.5" x2="284.7" y2="375.5" stroke="#666" stroke-width="0.8"/>
<text x="278.8" y="375.5" font-size="5.8" text-anchor="middle" fill="#333" font-weight="normal" transform="rotate(-90 278.8 375.5)" >1.0</text>
<line x1="281.6" y1="424.1" x2="284.7" y2="424.1" stroke="#666" stroke-width="0.8"/>
<text x="278.8" y="424.1" font-size="5.8" text-anchor="middle" fill="#333" font-weight="normal" transform="rotate(-90 278.8 424.1)" >0.5</text>
<line x1="291.8" y1="462.2" x2="458.5" y2="462.2" stroke="#666" stroke-width="0.9"/>
<line x1="291.8" y1="462.2" x2="291.8" y2="464.8" stroke="#666" stroke-width="0.8"/>
<text x="291.8" y="474.9" font-size="5.8" text-anchor="middle" fill="#333" font-weight="normal" >0.0</text>
<line x1="325.1" y1="462.2" x2="325.1" y2="464.8" stroke="#666" stroke-width="0.8"/>
<text x="325.1" y="474.9" font-size="5.8" text-anchor="middle" fill="#333" font-weight="normal" >0.2</text>
<line x1="358.5" y1="462.2" x2="358.5" y2="464.8" stroke="#666" stroke-width="0.8"/>
<text x="358.5" y="474.9" font-size="5.8" text-anchor="middle" fill="#333" font-weight="normal" >0.4</text>
<line x1="391.8" y1="462.2" x2="391.8" y2="464.8" stroke="#666" stroke-width="0.8"/>
<text x="391.8" y="474.9" font-size="5.8" text-anchor="middle" fill="#333" font-weight="normal" >0.6</text>
<line x1="425.2" y1="462.2" x2="425.2" y2="464.8" stroke="#666" stroke-width="0.8"/>
<text x="425.2" y="474.9" font-size="5.8" text-anchor="middle" fill="#333" font-weight="normal" >0.8</text>
<line x1="458.5" y1="462.2" x2="458.5" y2="464.8" stroke="#666" stroke-width="0.8"/>
<text x="458.5" y="474.9" font-size="5.8" text-anchor="middle" fill="#333" font-weight="normal" >1.0</text>
<text x="375.4" y="488.3" font-size="5.6" text-anchor="middle" fill="#333" font-weight="normal" >Pathway Impact</text>
<text x="265.6" y="371.2" font-size="5.4" text-anchor="middle" fill="#333" font-weight="normal" transform="rotate(-90 265.6 371.2)" >-log10(p)</text>
<text transform="translate(272.2 274.9) scale(0.94 1.04)" font-size="14.5" font-weight="bold" fill="#000">D</text>
<circle cx="410.9" cy="288.5" r="3.6" fill="#EE1010" stroke="#3a2a20" stroke-width="0.5"/>
<circle cx="458.1" cy="379.2" r="4.3" fill="#EE1A10" stroke="#3a2a20" stroke-width="0.5"/>
<circle cx="293.2" cy="352.1" r="1.5" fill="#C81818" stroke="#3a2a20" stroke-width="0.5"/>
<circle cx="297.6" cy="384.3" r="1.9" fill="#E02010" stroke="#3a2a20" stroke-width="0.5"/>
<circle cx="293.3" cy="407.0" r="1.45" fill="#E04418" stroke="#3a2a20" stroke-width="0.5"/>
<circle cx="291.8" cy="412.8" r="1.2" fill="#C83010" stroke="#3a2a20" stroke-width="0.5"/>
<circle cx="323.8" cy="415.8" r="2.7" fill="#F47A14" stroke="#3a2a20" stroke-width="0.5"/>
<circle cx="292.6" cy="429.0" r="1.4" fill="#F08020" stroke="#3a2a20" stroke-width="0.5"/>
<circle cx="296.9" cy="430.8" r="1.6" fill="#F09010" stroke="#3a2a20" stroke-width="0.5"/>
<circle cx="300.0" cy="430.8" r="1.6" fill="#F09010" stroke="#3a2a20" stroke-width="0.5"/>
<circle cx="291.5" cy="434.0" r="1.2" fill="#F0A010" stroke="#3a2a20" stroke-width="0.5"/>
<circle cx="291.5" cy="439.2" r="1.2" fill="#E8C010" stroke="#3a2a20" stroke-width="0.5"/>
<circle cx="291.5" cy="441.3" r="1.2" fill="#E8C010" stroke="#3a2a20" stroke-width="0.5"/>
<circle cx="315.3" cy="437.9" r="2.5" fill="#F0D000" stroke="#3a2a20" stroke-width="0.5"/>
<circle cx="295.7" cy="445.3" r="1.7" fill="#E8D000" stroke="#3a2a20" stroke-width="0.5"/>
<circle cx="291.5" cy="448.8" r="1.2" fill="#D8C020" stroke="#3a2a20" stroke-width="0.5"/>
<circle cx="302.8" cy="449.5" r="2.0" fill="#F8F0A0" stroke="#3a2a20" stroke-width="0.5"/>
<circle cx="295.5" cy="455.2" r="1.5" fill="#FFFFF0" stroke="#3a2a20" stroke-width="0.5"/>
<text x="417.7" y="291.2" font-size="8.0" text-anchor="start" fill="#22397A" font-weight="normal" stroke="#22397A" stroke-width="0.28" textLength="121.4" lengthAdjust="spacingAndGlyphs">Taurine and hypotaurine metabolism</text>
<text x="465.5" y="381.9" font-size="8.0" text-anchor="start" fill="#22397A" font-weight="normal" stroke="#22397A" stroke-width="0.28" textLength="81.8" lengthAdjust="spacingAndGlyphs">Linoleic acid metabolism</text>
<text x="297.0" y="355.7" font-size="8.0" text-anchor="start" fill="#22397A" font-weight="normal" stroke="#22397A" stroke-width="0.28" textLength="62.4" lengthAdjust="spacingAndGlyphs">Purine metabolism</text>
<text x="301.6" y="387.0" font-size="8.0" text-anchor="start" fill="#22397A" font-weight="normal" stroke="#22397A" stroke-width="0.28" textLength="73" lengthAdjust="spacingAndGlyphs">Galactose metabolism</text>
</svg></body></html>
